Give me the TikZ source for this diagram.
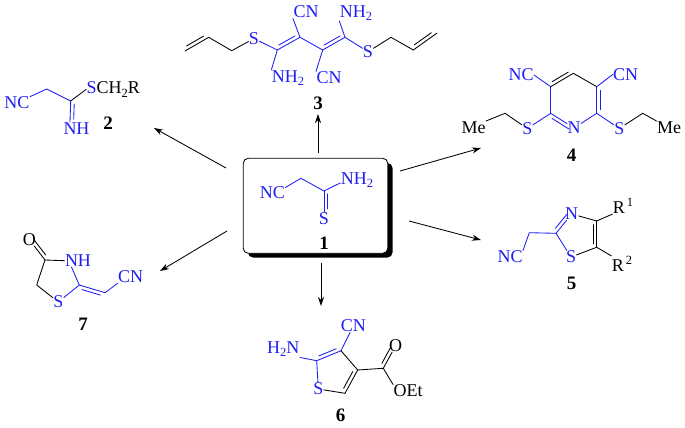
\documentclass[tikz,border=0pt]{standalone}
\usepackage{fontspec}
\setmainfont{Liberation Serif}
\usetikzlibrary{calc,arrows.meta}
\definecolor{chemblue}{RGB}{30,30,240}
\newcommand{\ts}{\fontsize{18}{20}\selectfont}
\newcommand{\sbs}[1]{\raisebox{-3.5pt}{\fontsize{12.5}{13}\selectfont #1}}
\newcommand{\sps}[1]{\raisebox{7pt}{\fontsize{12.5}{13}\selectfont\,#1}}
\newcommand{\bl}[1]{\textcolor{chemblue}{#1}}
\tikzset{
  x=1pt,y=-1pt,
  ab/.style={inner sep=0.3pt,text=chemblue,font=\ts},
  ak/.style={inner sep=0.3pt,text=black,font=\ts},
  num/.style={inner sep=0pt,font=\fontsize{19}{20}\selectfont\bfseries},
  bb/.style={draw=chemblue,line width=0.85pt,line cap=round,line join=round},
  bk/.style={draw=black,line width=0.85pt,line cap=round,line join=round},
  rxn/.style={draw=black,line width=0.85pt,-{Stealth[length=9pt,width=6pt]}},
}
% double bond: style, from, to, side (90 or -90)
\newcommand{\dbl}[4]{\draw[#1] (#2) -- (#3);
  \draw[#1] ($(#2)!0.14!(#3)!3.6pt!#4:(#3)$) -- ($(#3)!0.14!(#2)!3.6pt!-#4:(#2)$);}
\begin{document}
\begin{tikzpicture}
\useasboundingbox (0,0) rectangle (685,428);
\fill[white] (0,0) rectangle (685,428);
% central box
\fill[black,rounded corners=5pt] (248,163) rectangle (392.5,257.5);
\node[draw=black,fill=white,line width=0.85pt,rounded corners=5pt,minimum width=144.5pt,minimum height=95pt,inner sep=0pt] (box) at (315.5,205.8) {};
% compound 1
\coordinate (a1) at (301,178.3); \coordinate (a2) at (324,191);
\node[ab] (a3) at (272.3,192.3) {NC};
\node[ab] (a4) at (357,180) {NH\sbs{2}};
\node[ab] (a5) at (324,218.5) {S};
\node[num] (n1) at (324,243) {1};
\draw[bb] (a3.20) -- (a1) -- (a2) -- (a4.190);
\dbl{bb}{a2}{a5.north}{90}
% compound 2
\coordinate (b1) at (46.7,89); \coordinate (b2) at (70.7,101);
\node[ab] (b3) at (17,102.7) {NC};
\node[ak,anchor=west] (b4) at (86,89.5) {\bl{S}CH\sbs{2}R};
\node[ab] (b5) at (76.5,128.5) {NH};
\node[num] (n2) at (108,123.5) {2};
\draw[bb] (b3.25) -- (b1) -- (b2);
\draw[bk] (b2) -- (b4.west);
\dbl{bb}{b2}{$(b5.north west)+(7,0)$}{90}
% compound 3
\coordinate (c1) at (185,51); \coordinate (c2) at (208.7,37.3); \coordinate (c3) at (231.7,50.7);
\coordinate (c4) at (277.3,50); \coordinate (c5) at (300,37.3); \coordinate (c6) at (322.7,50);
\coordinate (c7) at (345,37.3); \coordinate (c8) at (391,37.3); \coordinate (c9) at (413.3,50); \coordinate (c10) at (436.7,33.3);
\node[ab] (cs1) at (254,38.5) {S};
\node[ab] (cs2) at (368,51.7) {S};
\node[ab] (ccn1) at (306,12) {CN};
\node[ab] (ccn2) at (329,78) {CN};
\node[ab] (cn1) at (356,13) {NH\sbs{2}};
\node[ab] (cn2) at (288,78) {NH\sbs{2}};
\node[num] (n3) at (318,103) {3};
\dbl{bk}{c1}{c2}{90}
\draw[bk] (c2) -- (c3) -- (cs1);
\draw[bb] (cs1) -- (c4);
\dbl{bb}{c4}{c5}{90}
\draw[bb] (c5) -- (c6);
\dbl{bb}{c6}{c7}{90}
\draw[bb] (c7) -- (cs2);
\draw[bk] (cs2) -- (c8) -- (c9);
\dbl{bk}{c9}{c10}{90}
\draw[bb] (c5) -- (ccn1.south west);
\draw[bb] (c6) -- (ccn2.north west);
\draw[bb] (c7) -- (cn1.south west);
\draw[bb] (c4) -- (cn2.north west);
% compound 4
\coordinate (d3) at (550.7,86.7); \coordinate (d4) at (573.3,73.3); \coordinate (d5) at (596.7,86.7);
\coordinate (d6) at (596.7,113.3); \coordinate (d2) at (550.7,113.3);
\coordinate (d7) at (505,113.3); \coordinate (d8) at (642.7,113.3);
\node[ab] (dn) at (574,128) {N};
\node[ab] (dnc) at (521,75) {NC};
\node[ab] (dcn) at (625.7,74.5) {CN};
\node[ab] (ds1) at (527.3,128.5) {S};
\node[ab] (ds2) at (619.3,128.5) {S};
\node[ak] (dme1) at (473.5,127.5) {Me};
\node[ak] (dme2) at (669,127.5) {Me};
\node[num] (n4) at (571.7,155.5) {4};
\draw[bb] (dnc.east) -- (d3);
\draw[bb] (dcn.west) -- (d5);
\draw[bb] (d3) -- (d2);
\draw[bk] (d4) -- (d5);
\dbl{bk}{d3}{d4}{90}
\dbl{bb}{d2}{dn}{-90}
\draw[bb] (dn) -- (d6);
\dbl{bb}{d6}{d5}{-90}
\draw[bb] (d2) -- (ds1);
\draw[bb] (d6) -- (ds2);
\draw[bk] (ds1) -- (d7) -- (dme1.north east);
\draw[bk] (ds2) -- (d8) -- (dme2.north west);
% compound 5
\coordinate (e1) at (529.3,232.7); \coordinate (e2) at (556,233.3);
\coordinate (e4) at (596.7,221); \coordinate (e5) at (596.7,247.3);
\node[ab] (enc) at (510,257) {NC};
\node[ab] (en) at (571.7,214) {N};
\node[ab] (es) at (571,257) {S};
\node[ak] (er1) at (623,206) {R\sps{1}};
\node[ak] (er2) at (622,264) {R\sps{2}};
\node[num] (n5) at (571.7,283.5) {5};
\draw[bb] (enc.north east) -- (e1) -- (e2);
\dbl{bb}{e2}{en}{90}
\draw[bb] (e2) -- (es);
\draw[bk] (en) -- (e4);
\dbl{bk}{e5}{e4}{90}
\draw[bk] (e5) -- (es);
\draw[bk] (e4) -- (er1.south west);
\draw[bk] (e5) -- (er2.north west);
% compound 6
\coordinate (f3) at (341,350.7); \coordinate (f2) at (316.7,360.7); \coordinate (f5) at (345,393.3);
\coordinate (f4) at (357.7,370); \coordinate (f6) at (383.3,368.3);
\node[ab] (fcn) at (353.3,326) {CN};
\node[ab] (fn) at (283.3,349.3) {H\sbs{2}N};
\node[ab] (fs) at (318.3,389) {S};
\node[ak] (fo) at (395.7,345.5) {O};
\node[ak] (foe) at (408,391) {OEt};
\node[num] (n6) at (340.7,415) {6};
\draw[bb] (fn.south east) -- (f2);
\dbl{bb}{f2}{f3}{90}
\draw[bb] (f3) -- (fcn);
\draw[bb] (f2) -- (fs);
\draw[bk] (f3) -- (f4);
\dbl{bk}{f4}{f5}{-90}
\draw[bk] (f5) -- (fs);
\draw[bk] (f4) -- (f6);
\dbl{bk}{f6}{fo}{90}
\draw[bk] (f6) -- (foe.north west);
% compound 7
\coordinate (g4) at (45,260); \coordinate (g2) at (79.3,285); \coordinate (g5) at (36.7,285); \coordinate (g6) at (105,292.7);
\node[ak] (go) at (29.3,239.5) {O};
\node[ab] (gn) at (78,260.7) {NH};
\node[ab] (gs) at (58.3,302) {S};
\node[ab] (gcn) at (130.7,276.7) {CN};
\node[num] (n7) at (83,324) {7};
\dbl{bk}{g4}{go}{-90}
\draw[bk] (g4) -- (gn.west);
\draw[bk] (g4) -- (g5) -- (gs);
\draw[bb] ($(gn.south west)+(7,0)$) -- (g2) -- (gs);
\dbl{bb}{g2}{g6}{-90}
\draw[bb] (g6) -- (gcn.south west);
% reaction arrows
\coordinate (r2a) at (226,168); \coordinate (r2b) at (154,128);
\coordinate (r3a) at (318,153); \coordinate (r3b) at (318,114);
\coordinate (r4a) at (400,171); \coordinate (r4b) at (481,148);
\coordinate (r5a) at (409,221); \coordinate (r5b) at (481,240);
\coordinate (r6a) at (321,263); \coordinate (r6b) at (321,306);
\coordinate (r7a) at (227,231); \coordinate (r7b) at (160,271);
\draw[rxn] (r2a) -- (r2b);
\draw[rxn] (r3a) -- (r3b);
\draw[rxn] (r4a) -- (r4b);
\draw[rxn] (r5a) -- (r5b);
\draw[rxn] (r6a) -- (r6b);
\draw[rxn] (r7a) -- (r7b);
\end{tikzpicture}
\end{document}
